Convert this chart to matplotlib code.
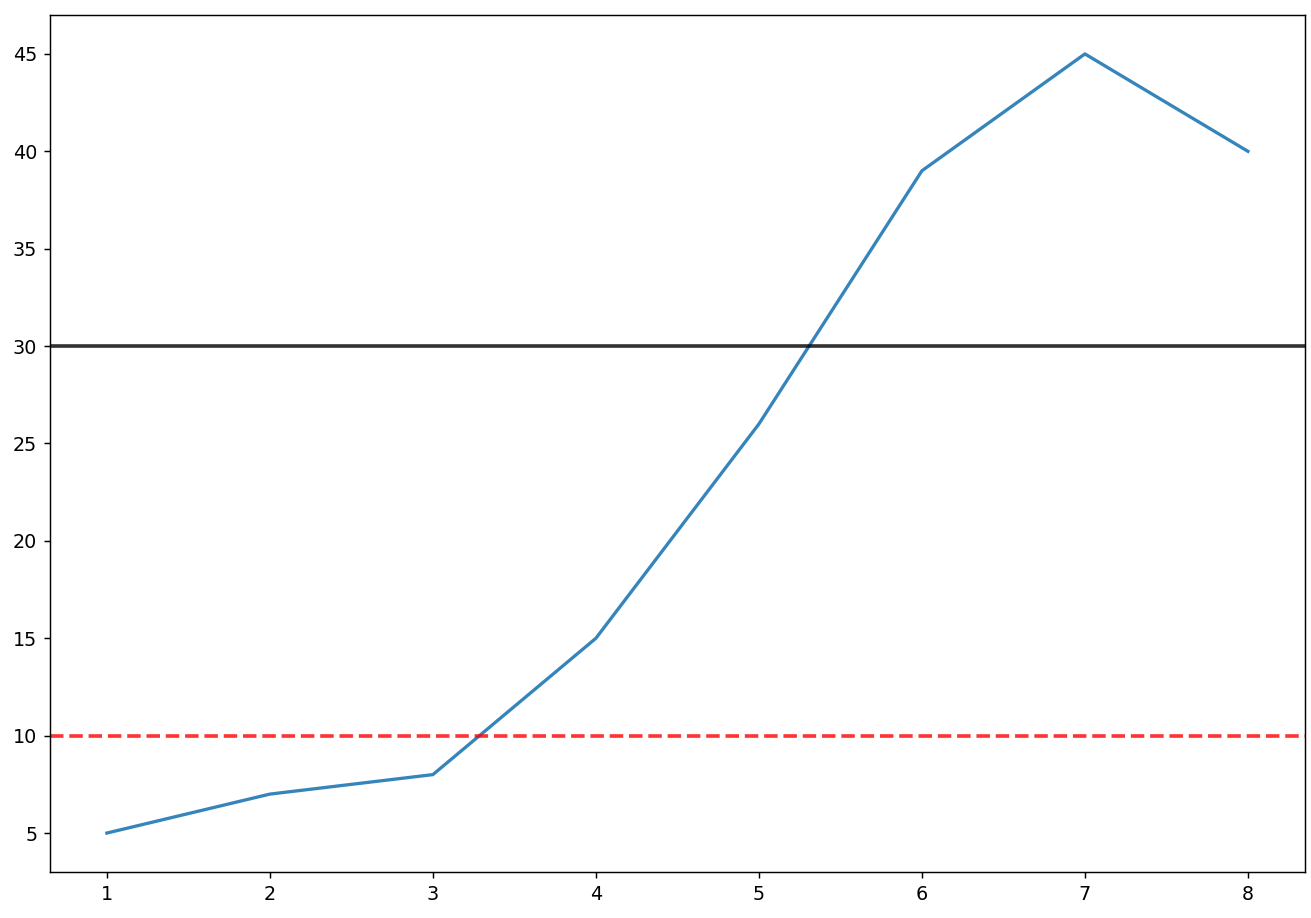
import matplotlib
matplotlib.use('Agg')
import matplotlib.pyplot as plt

x = [1, 2, 3, 4, 5, 6, 7, 8]
y = [5, 7, 8, 15, 26, 39, 45, 40]
black_line = 30
red_line = 10

fig = plt.figure(figsize=(10, 7.0023), dpi=131.1)
ax = fig.add_subplot(111)
ax.plot(x, y, color='#1f77b4', linewidth=1.8, alpha=0.9)
ax.axhline(y=black_line, color='black', linewidth=2, alpha=0.8)
ax.axhline(y=red_line, color='red', linestyle='--', linewidth=2, alpha=0.8)
ax.tick_params(labelsize=10.5)
fig.subplots_adjust(left=0.038, right=0.9954, top=0.9837, bottom=0.0501)

plt.savefig('out.png')
